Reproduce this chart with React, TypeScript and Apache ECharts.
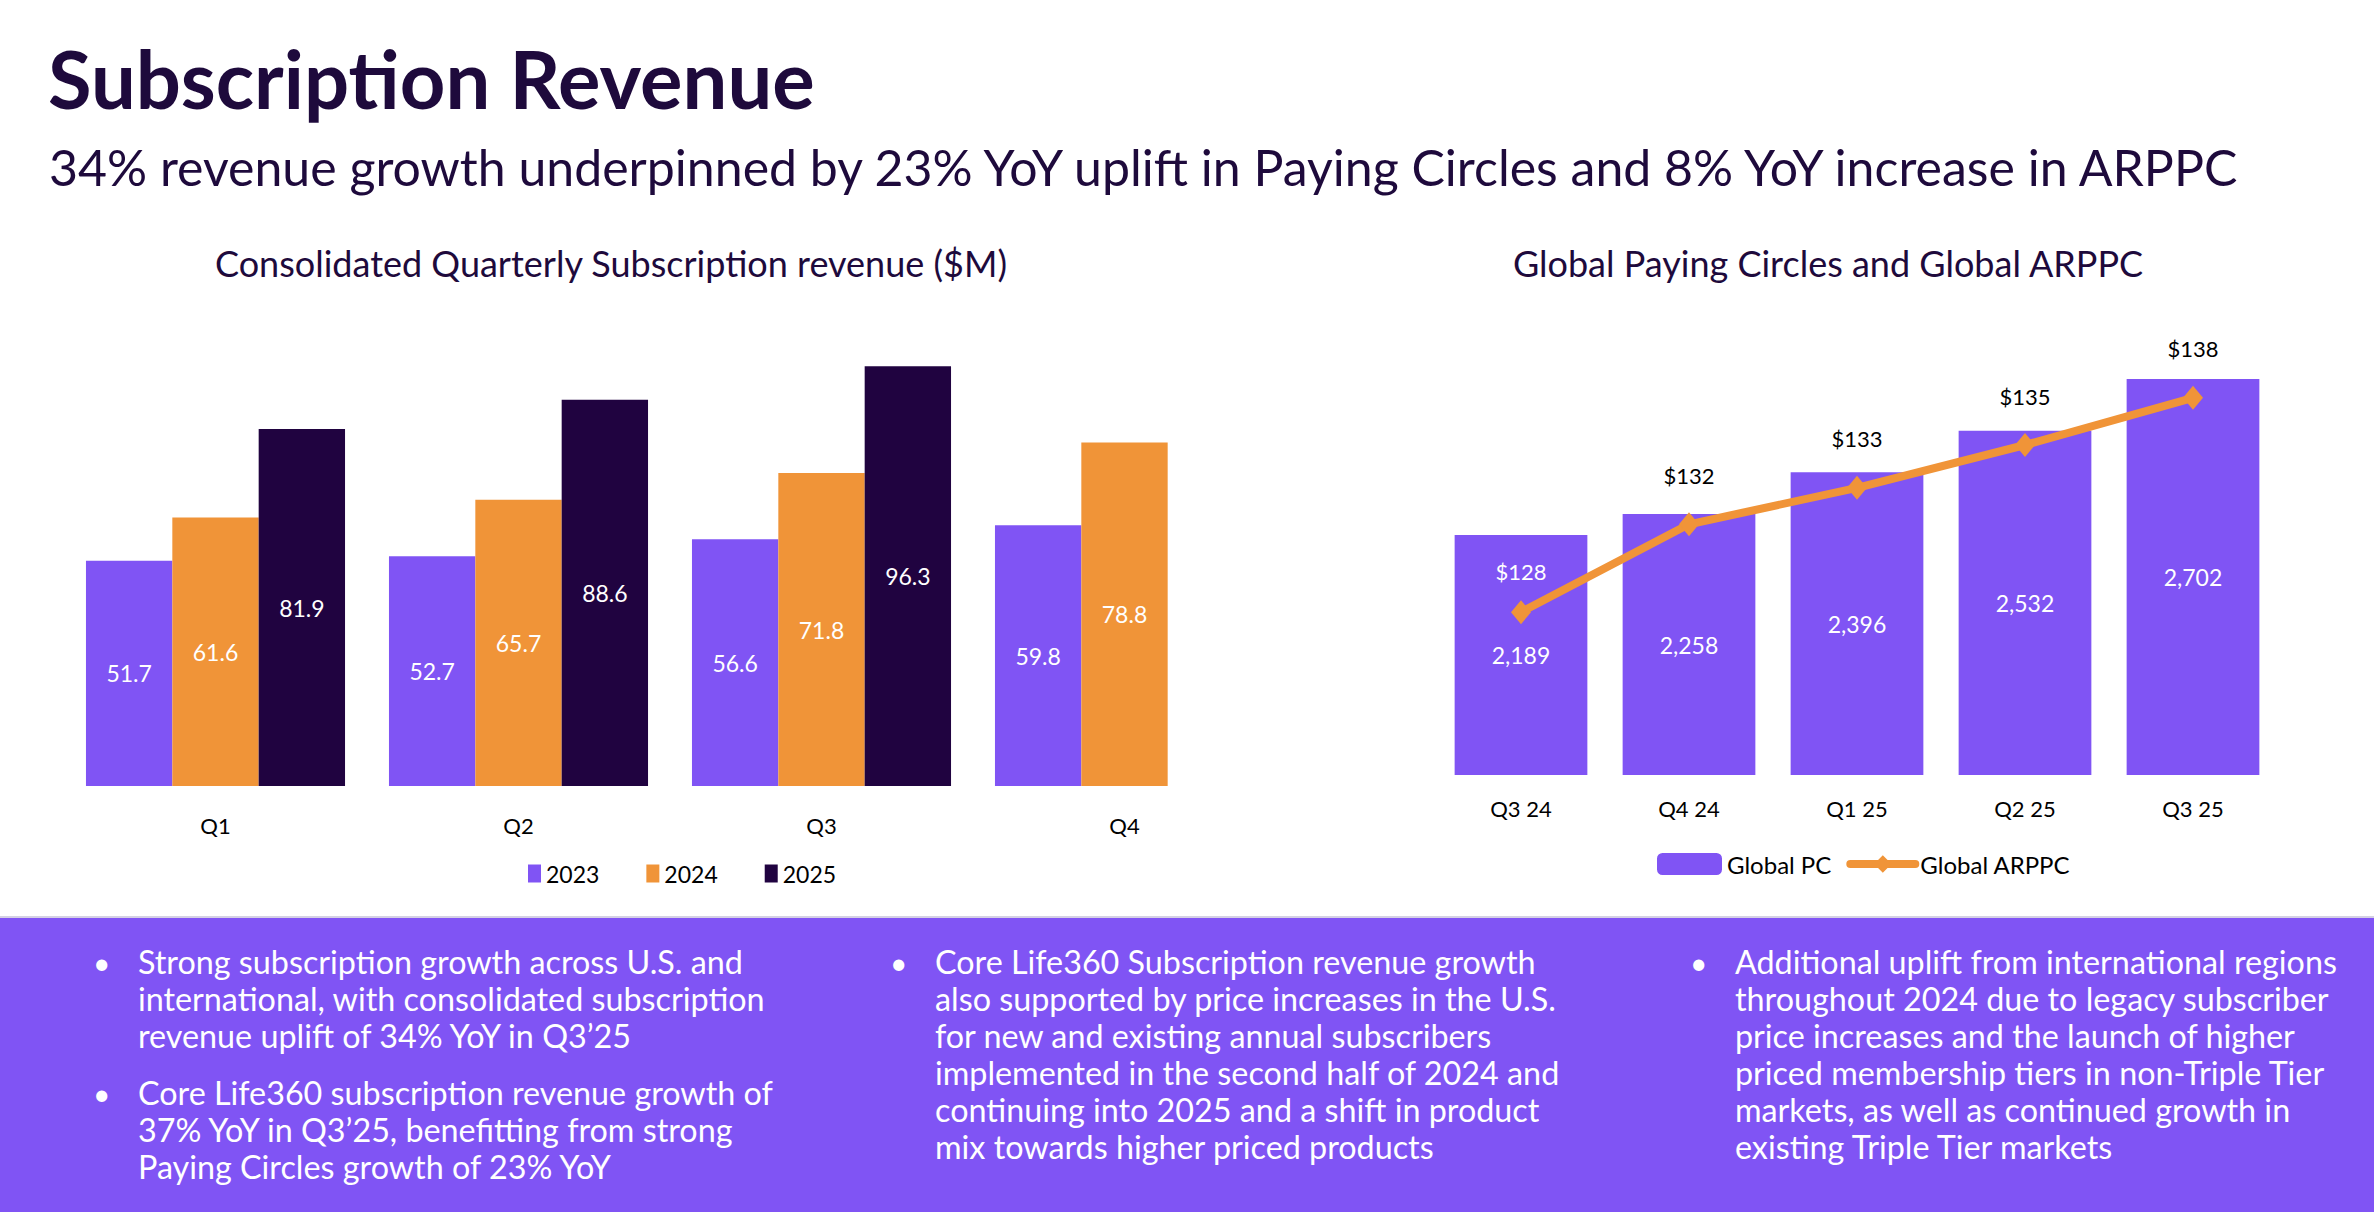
import React, { useEffect, useRef } from "react";
import * as echarts from "echarts";

// ---------- data ----------
const quarters = ["Q1", "Q2", "Q3", "Q4"];
const rev2023 = [51.7, 52.7, 56.6, 59.8];
const rev2024 = [61.6, 65.7, 71.8, 78.8];
const rev2025 = [81.9, 88.6, 96.3, null];
const yearNames = ["2023", "2024", "2025"];

const periods = ["Q3 24", "Q4 24", "Q1 25", "Q2 25", "Q3 25"];
const payingCircles = [2189, 2258, 2396, 2532, 2702];
// ARPPC ($) - labels; decimals estimated from plotted positions
const arppc = [127.6, 131.7, 133.4, 135.4, 137.6];

const titleText = "Subscription Revenue";
const subtitleText =
  "34% revenue growth underpinned by 23% YoY uplift in Paying Circles and 8% YoY increase in ARPPC";
const leftChartTitle = "Consolidated Quarterly Subscription revenue ($M)";
const rightChartTitle = "Global Paying Circles and Global ARPPC";

const bulletCol1a = [
  "Strong subscription growth across U.S. and",
  "international, with consolidated subscription",
  "revenue uplift of 34% YoY in Q3\u201925",
];
const bulletCol1b = [
  "Core Life360 subscription revenue growth of",
  "37% YoY in Q3\u201925, benefitting from strong",
  "Paying Circles growth of 23% YoY",
];
const bulletCol2 = [
  "Core Life360 Subscription revenue growth",
  "also supported by price increases in the U.S.",
  "for new and existing annual subscribers",
  "implemented in the second half of 2024 and",
  "continuing into 2025 and a shift in product",
  "mix towards higher priced products",
];
const bulletCol3 = [
  "Additional uplift from international regions",
  "throughout 2024 due to legacy subscriber",
  "price increases and the launch of higher",
  "priced membership tiers in non-Triple Tier",
  "markets, as well as continued growth in",
  "existing Triple Tier markets",
];

// ---------- styles ----------
const FONT = "Lato";
const PURPLE = "#8054F4";
const ORANGE = "#F09438";
const DARK = "#200340";
const INK = "#1E0A3C";

export default function App() {
  const ref = useRef<HTMLDivElement>(null);

  useEffect(() => {
    if (!ref.current) return;
    const chart = echarts.init(ref.current, undefined, { renderer: "svg" });

    const lineH = 37;
    const bulletBlock = (x: number, y: number, lines: string[]) => [
      {
        type: "text",
        x: x - 45,
        y,
        style: {
          text: "\u2022",
          font: `30px ${FONT}`,
          fill: "#fff",
          verticalAlign: "top",
          lineHeight: lineH,
        },
      },
      {
        type: "text",
        x,
        y,
        style: {
          text: lines.join("\n"),
          font: `32.3px ${FONT}`,
          fill: "#fff",
          verticalAlign: "top",
          lineHeight: lineH,
        },
      },
    ];

    const barLabel = {
      show: true,
      position: "inside",
      color: "#fff",
      fontSize: 23,
      fontFamily: FONT,
    };

    const option: any = {
      animation: false,
      textStyle: { fontFamily: FONT },
      graphic: [
        {
          type: "rect",
          shape: { x: 0, y: 918, width: 2374, height: 294 },
          style: { fill: PURPLE },
        },
        {
          type: "line",
          shape: { x1: 0, y1: 917, x2: 2374, y2: 917 },
          style: { stroke: "#D4D0E4", lineWidth: 2 },
        },
        {
          type: "text",
          x: 48,
          y: 78,
          style: {
            text: titleText,
            font: `bold 79.5px ${FONT}`,
            fill: INK,
            verticalAlign: "middle",
          },
        },
        {
          type: "text",
          x: 49,
          y: 167,
          style: {
            text: subtitleText,
            font: `50px ${FONT}`,
            fill: INK,
            verticalAlign: "middle",
          },
        },
        {
          type: "text",
          x: 611,
          y: 263,
          style: {
            text: leftChartTitle,
            font: `36px ${FONT}`,
            fill: INK,
            align: "center",
            verticalAlign: "middle",
          },
        },
        {
          type: "text",
          x: 1828,
          y: 263,
          style: {
            text: rightChartTitle,
            font: `36px ${FONT}`,
            fill: INK,
            align: "center",
            verticalAlign: "middle",
          },
        },
        ...bulletBlock(138, 943, bulletCol1a),
        ...bulletBlock(138, 1074, bulletCol1b),
        ...bulletBlock(935, 943, bulletCol2),
        ...bulletBlock(1735, 943, bulletCol3),
      ],
      grid: [
        { left: 64, top: 263, width: 1212, height: 523 },
        { left: 1437, top: 325, width: 840, height: 450 },
      ],
      xAxis: [
        {
          type: "category",
          gridIndex: 0,
          data: quarters,
          axisLine: { show: false },
          axisTick: { show: false },
          axisLabel: { fontSize: 22, color: "#000", margin: 28, fontFamily: FONT },
        },
        {
          type: "category",
          gridIndex: 1,
          data: periods,
          axisLine: { show: false },
          axisTick: { show: false },
          axisLabel: { fontSize: 22, color: "#000", margin: 22, fontFamily: FONT },
        },
      ],
      yAxis: [
        { type: "value", gridIndex: 0, min: 0, max: 120, show: false },
        { type: "value", gridIndex: 1, min: 1400, max: 2880, show: false },
        { type: "value", gridIndex: 1, min: 120, max: 141, show: false },
      ],
      legend: [
        {
          data: yearNames,
          left: 523,
          top: 857,
          icon: "rect",
          itemWidth: 13,
          itemHeight: 18,
          itemGap: 47,
          textStyle: { fontSize: 23, color: "#000", fontFamily: FONT },
        },
        {
          data: ["Global PC", "Global ARPPC"],
          left: 1652,
          top: 847,
          itemWidth: 65,
          itemHeight: 22,
          itemGap: 15,
          lineStyle: { width: 8, cap: "round" },
          textStyle: { fontSize: 24, color: "#000", fontFamily: FONT },
        },
      ],
      series: [
        {
          name: yearNames[0],
          type: "bar",
          xAxisIndex: 0,
          yAxisIndex: 0,
          data: rev2023,
          itemStyle: { color: PURPLE },
          barGap: "0%",
          barCategoryGap: "14.5%",
          label: barLabel,
        },
        {
          name: yearNames[1],
          type: "bar",
          xAxisIndex: 0,
          yAxisIndex: 0,
          data: rev2024,
          itemStyle: { color: ORANGE },
          barGap: "0%",
          barCategoryGap: "14.5%",
          label: barLabel,
        },
        {
          name: yearNames[2],
          type: "bar",
          xAxisIndex: 0,
          yAxisIndex: 0,
          data: rev2025,
          itemStyle: { color: DARK },
          barGap: "0%",
          barCategoryGap: "14.5%",
          label: barLabel,
        },
        {
          name: "Global PC",
          type: "bar",
          xAxisIndex: 1,
          yAxisIndex: 1,
          data: payingCircles,
          itemStyle: { color: PURPLE },
          barCategoryGap: "21%",
          label: {
            ...barLabel,
            formatter: (p: any) => Number(p.value).toLocaleString("en-US"),
          },
        },
        {
          name: "Global ARPPC",
          type: "line",
          xAxisIndex: 1,
          yAxisIndex: 2,
          data: arppc.map((v, i) =>
            i === 0 ? { value: v, label: { color: "#fff", distance: 18 } } : v
          ),
          symbol: "diamond",
          symbolSize: [20, 24],
          lineStyle: { color: ORANGE, width: 8 },
          itemStyle: { color: ORANGE },
          z: 5,
          label: {
            show: true,
            position: "top",
            distance: 26,
            color: "#000",
            fontSize: 22,
            fontFamily: FONT,
            formatter: (p: any) => "$" + Math.round(Number(p.value)),
          },
        },
      ],
    };

    chart.setOption(option);
    return () => chart.dispose();
  }, []);

  return (
    <div
      ref={ref}
      style={{ position: "absolute", left: 0, top: 0, width: 2374, height: 1212, background: "#fff" }}
    />
  );
}
